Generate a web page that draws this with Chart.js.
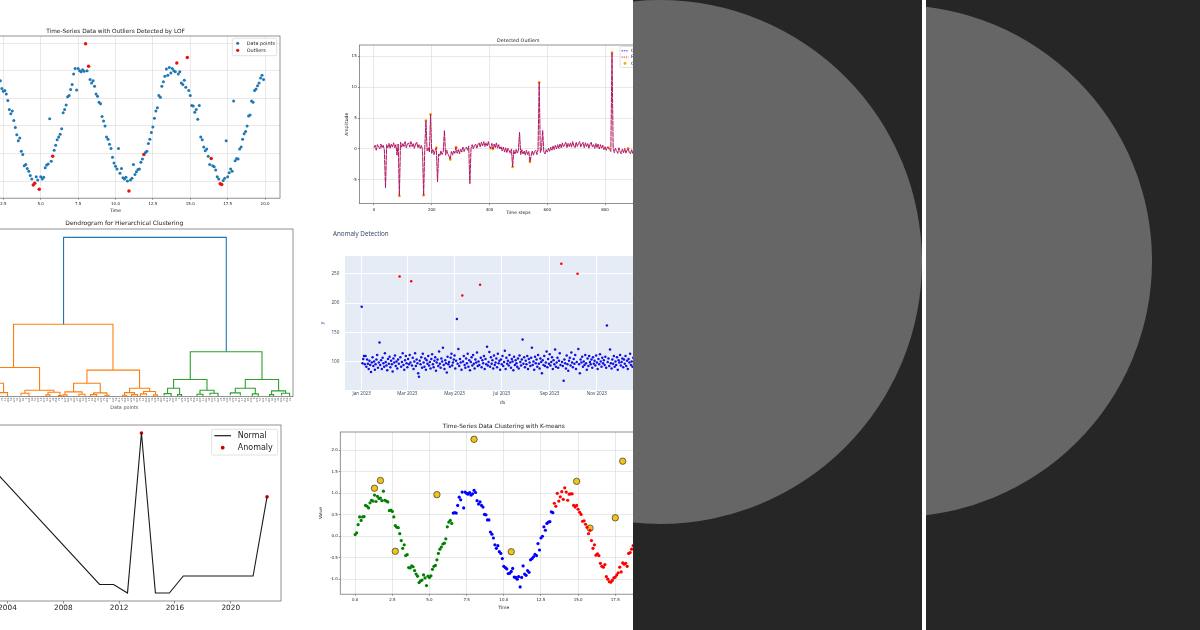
<!DOCTYPE html>
<html>
<head>
<meta charset="utf-8">
<script src="https://cdn.jsdelivr.net/npm/chart.js@4.4.1/dist/chart.umd.min.js"></script>
<style>
  html, body { margin: 0; padding: 0; background: #fff; }
  body { width: 1200px; height: 630px; position: relative; overflow: hidden; }
  canvas.panel { position: absolute; left: 0; top: 0; }
  .dark { position: absolute; top: 0; height: 630px; background: #262626; overflow: hidden; z-index: 5; }
  .disc { position: absolute; background: #666; border-radius: 50%; }
</style>
</head>
<body>
<canvas id="lof" class="panel" width="400" height="240"></canvas>
<canvas id="outl" class="panel" width="400" height="240"></canvas>
<canvas id="dendro" class="panel" width="400" height="240"></canvas>
<canvas id="anom" class="panel" width="400" height="240"></canvas>
<canvas id="norm" class="panel" width="400" height="240"></canvas>
<canvas id="kmeans" class="panel" width="400" height="240"></canvas>
<div class="dark" style="left:633px;width:289px"><div class="disc" style="left:-235px;top:0;width:524px;height:524px"></div></div>
<div class="dark" style="left:926px;width:274px"><div class="disc" style="left:-286px;top:5px;width:512px;height:512px"></div></div>
<script>
const FONT = "'DejaVu Sans', sans-serif";
const PLOTLY_FONT = "'Open Sans', sans-serif";
const INK = '#222';

// panel 1 - LOF scatter (samples every 0.1 from t = 2.0)
const lofStart = 2.0, lofStep = 0.1;
const lofValues = [
  0.92, 0.85, 0.80, 0.82, 0.68, 0.63, 0.64, 0.58, 0.46, 0.30,
  0.22, 0.27, 0.10, -0.03, -0.16, -0.27, -0.22, -0.46, -0.52, -0.72,
  -0.70, -0.77, -0.82, -0.90, -0.96, -1.07, -1.04, -0.92, -0.98, -1.15,
  -0.92, -0.96, -0.93, -0.76, -0.71, -0.69, 0.13, -0.64, -0.55, -0.44,
  -0.35, -0.25, -0.20, -0.15, -0.05, 0.24, 0.30, 0.38, 0.53, 0.55,
  0.66, 0.75, 0.94, 1.04, 0.65, 1.04, 1.00, 0.98, 1.02, 0.99,
  1.49, 1.00, 1.08, 0.84, 0.78, 0.82, 0.72, 0.58, 0.54, 0.43,
  0.40, 0.17, 0.09, 0.00, -0.20, -0.24, -0.33, -0.41, -0.57, -0.67,
  -0.73, -0.78, -0.41, -0.86, -0.77, -0.94, -0.96, -0.93, -1.00, -1.18,
  -0.98, -0.95, -0.70, -0.88, -0.83, -0.79, -0.78, -0.66, -0.60, -0.52,
  -0.48, -0.46, -0.32, -0.24, -0.12, -0.02, 0.14, 0.27, 0.33, 0.55,
  0.52, 0.72, 0.80, 0.90, 1.03, 0.92, 1.06, 0.96, 1.04, 1.00,
  0.98, 1.14, 0.94, 0.98, 0.78, 0.75, 0.83, 0.70, 1.24, 0.64,
  0.55, 0.37, 0.36, 0.25, 0.30, 0.12, 0.37, -0.20, -0.25, -0.38,
  -0.45, -0.42, -0.55, -0.70, -0.59, -0.72, -0.74, -0.80, -0.92, -0.96,
  -1.05, -1.06, -0.99, -0.95, -0.27, -0.92, -0.85, -0.78, -0.82, 0.45,
  -0.63, -0.59, -0.60, -0.42, -0.38, -0.24, -0.14, -0.10, 0.00, 0.18,
  0.20, 0.45, 0.43, 0.64, 0.67, 0.73, 0.78, 0.87, 0.92, 0.84
];
const lofOutlierTimes = [4.5, 4.6, 4.9, 5.8, 8.0, 8.2, 10.9, 11.9, 14.1, 14.8, 16.4, 17.0, 17.1];
const lofTicksX = [2.5, 5, 7.5, 10, 12.5, 15, 17.5, 20];
const lofTicksY = [-1, -0.5, 0, 0.5, 1, 1.5];

// panel 2 - detected outliers (one sample every 4 steps)
const p2Step = 4;
const p2Values = [
  0.2, 0.6, -0.2, 0.7, 0.3, 0.0, 0.8, 0.2, 0.6, -0.1,
  -6.3, 0.7, 0.2, 0.9, 0.1, 0.8, 0.3, 1.0, 0.2, 0.7,
  -1.0, 0.8, -7.6, 1.1, 0.3, 0.9, 0.4, 1.2, 0.2, 0.8,
  1.0, 0.3, 1.2, 0.4, 0.9, 0.1, 0.8, 1.1, 0.2, 0.7,
  0.1, 0.6, -0.1, -7.5, 0.2, 4.6, -0.3, 0.2, -0.5, 5.6,
  -0.7, -0.1, -0.9, -0.2, 0.2, -5.3, -0.8, -1.1, -0.3, -0.9,
  -0.4, 3.0, -1.0, -0.2, -0.8, -1.2, -1.7, -0.4, -1.0, -0.3,
  -0.7, 0.3, -0.7, -0.1, -0.8, 0.0, -0.5, 0.3, -0.4, 0.1,
  0.3, -0.2, 0.5, -5.6, 0.1, 0.7, 0.0, 0.6, 0.8, 0.1,
  0.7, 1.0, 0.3, 1.1, 0.5, 1.2, 0.4, 1.0, 0.5, 1.2,
  0.4, 0.1, 0.9, 0.0, 0.8, 0.2, 1.0, 0.1, 0.7, 0.0,
  0.4, -0.3, 0.3, -0.5, 0.2, -0.6, 0.1, -0.3, -0.7, 0.0,
  -2.9, -0.2, -0.8, -0.1, -0.7, -0.2, 2.7, -0.9, -0.1, -0.8,
  -0.3, -1.0, -0.2, -0.9, -0.4, -2.1, -1.1, -0.3, -1.0, -0.4,
  -0.2, -0.9, -0.1, 10.8, -0.6, 0.0, 3.0, -0.5, -0.8, -0.1,
  -0.5, 0.1, -0.4, 0.3, -0.2, 0.5, -0.1, 0.6, 0.0, 0.7,
  0.1, 0.8, 0.2, 1.0, 0.3, 0.7, 1.1, 0.2, 0.9, 0.4,
  1.0, 0.3, 1.2, 0.5, 0.2, 1.1, 0.4, 0.9, 1.2, 0.3,
  0.8, 1.1, 0.2, 1.0, 0.4, 0.9, 0.1, 0.8, 1.1, 0.3,
  0.7, 0.1, 0.9, 0.2, 0.8, 0.0, 0.7, 0.1, 0.6, -0.1,
  0.4, -0.2, 0.3, 0.2, -0.1, -0.4, 15.6, 0.2, -0.6, 0.1,
  -0.3, -0.7, 0.2, -0.4, -0.8, 0.0, -0.6, 0.1, -0.7, -0.2,
  0.1, -0.6, -0.8, -0.1, -0.7, -0.3
];
const p2OutlierSteps = [88, 172, 180, 196, 216, 264, 284, 404, 412, 480, 540, 572, 812, 824, 880];
const p2TicksX = [0, 200, 400, 600, 800];
const p2TicksY = [-5, 0, 5, 10, 15];

// panel 3 - dendrogram links: [left x, right x, left foot, height, right foot, colour]
const dendroLinks = [
  [108.0, 270.7, 21.6, 47.5, 13.4, 'b'],
  [58.0, 157.4, 8.7, 21.6, 7.9, 'o'],
  [32.0, 84.0, 4.0, 8.7, 1.9, 'o'],
  [16.4, 48.0, 1.5, 4.0, 1.2, 'o'],
  [69.4, 98.4, 1.0, 1.9, 1.3, 'o'],
  [131.4, 184.0, 4.0, 7.9, 2.5, 'o'],
  [118.0, 144.7, 1.4, 4.0, 1.1, 'o'],
  [109.4, 126.4, 0.5, 1.4, 0.7, 'o'],
  [138.0, 151.4, 0.6, 1.1, 0.4, 'o'],
  [174.0, 194.0, 1.2, 2.5, 1.5, 'o'],
  [169.0, 179.0, 0.4, 1.2, 0.6, 'o'],
  [188.0, 200.0, 0.8, 1.5, 0.5, 'o'],
  [44.0, 52.0, 0.4, 1.2, 0, 'o'],
  [10.4, 22.4, 0.6, 1.5, 0, 'o'],
  [65.4, 73.4, 0.3, 1.0, 0, 'o'],
  [92.4, 104.4, 0.5, 1.3, 0.3, 'o'],
  [90.4, 94.4, 0, 0.5, 0, 'o'],
  [102.9, 105.9, 0, 0.3, 0, 'o'],
  [107.4, 111.4, 0, 0.5, 0, 'o'],
  [123.4, 129.4, 0.2, 0.7, 0, 'o'],
  [135.0, 141.0, 0, 0.6, 0.2, 'o'],
  [149.4, 153.4, 0, 0.4, 0, 'o'],
  [167.0, 171.0, 0, 0.4, 0, 'o'],
  [176.0, 182.0, 0.2, 0.6, 0, 'o'],
  [185.0, 191.0, 0, 0.8, 0.3, 'o'],
  [198.0, 202.0, 0, 0.5, 0, 'o'],
  [234.7, 306.4, 5.1, 13.4, 5.1, 'g'],
  [218.0, 251.4, 2.5, 5.1, 1.9, 'g'],
  [212.0, 224.0, 0.9, 2.5, 0.6, 'g'],
  [244.4, 258.4, 0.7, 1.9, 1.0, 'g'],
  [289.7, 323.0, 2.5, 5.1, 1.7, 'g'],
  [279.7, 299.7, 1.1, 2.5, 0.8, 'g'],
  [316.0, 330.0, 0.6, 1.7, 1.0, 'g'],
  [208.5, 215.5, 0.3, 0.9, 0, 'g'],
  [222.0, 226.0, 0, 0.6, 0, 'g'],
  [241.4, 247.4, 0, 0.7, 0.2, 'g'],
  [254.4, 262.4, 0.4, 1.0, 0, 'g'],
  [274.7, 284.7, 0.4, 1.1, 0.3, 'g'],
  [296.7, 302.7, 0, 0.8, 0.2, 'g'],
  [314.0, 318.0, 0, 0.6, 0, 'g'],
  [326.0, 334.0, 0.3, 1.0, 0, 'g']
];
const dendroColors = { b: '#1f77b4', o: '#ff7f0e', g: '#2ca02c' };
const leafIds = [
  118, 45, 131, 7, 162, 88, 24, 150, 63, 109, 5, 177, 92, 38, 144, 70, 12, 189, 56, 123,
  31, 167, 84, 2, 146, 99, 51, 135, 18, 173, 66, 114, 40, 158, 79, 9, 127, 194, 47, 103,
  27, 181, 60, 138, 15, 96, 153, 34, 120, 72, 186, 1, 143, 58, 111, 22, 169, 87, 129, 43,
  197, 75, 14, 160, 101, 36, 149, 68, 183, 20, 116, 54, 137, 90, 4, 175, 62, 125, 29, 156,
  81, 107, 11, 191, 49, 133, 77, 164, 25, 98, 145, 39, 179, 65, 112, 17, 152, 85, 130, 8,
  170, 57, 122, 33, 187, 94, 141, 46, 106, 73, 159, 26
];

// panel 4 - daily values for 2023 (null where the day is an anomaly)
const adDaily = [
  194, 98, 105, 110, 96, 110, 92, 104, 97, 88, 102, 95, 83, 99, 108, 93, 101, 87, 96, 104,
  112, 90, 99, 133, 95, 103, 88, 107, 98, 92, 115, 100, 94, 86, 105, 97, 109, 91, 102, 96,
  84, 106, 99, 111, 93, 101, 89, 104, 97, null, 108, 92, 100, 115, 95, 87, 103, 110, 98, 91,
  105, 96, 112, 99, null, 94, 107, 88, 101, 115, 93, 104, 98, 81, 75, 102, 96, 108, 90, 114,
  99, 92, 106, 87, 103, 97, 110, 94, 100, 89, 105, 113, 96, 91, 102, 108, 85, 99, 104, 93,
  118, 97, 90, 106, 101, 124, 95, 88, 103, 98, 82, 109, 96, 100, 92, 107, 114, 94, 99, 104,
  111, 89, 102, 173, 97, 122, 93, 105, 99, 87, null, 101, 110, 95, 90, 106, 98, 114, 92, 103,
  86, 100, 108, 94, 112, 97, 89, 104, 99, 116, 93, 101, 95, null, 107, 91, 103, 98, 110, 88,
  105, 96, 126, 94, 100, 117, 92, 108, 97, 103, 89, 111, 95, 99, 106, 91, 114, 98, 102, 87,
  104, 96, 110, 93, 100, 119, 88, 107, 97, 102, 94, 112, 99, 90, 105, 101, 86, 109, 95, 103,
  98, 92, 106, 89, 111, 100, 94, 104, 138, 97, 108, 91, 102, 96, 110, 88, 105, 99, 93, 107,
  124, 95, 101, 87, 109, 98, 104, 92, 112, 97, 89, 106, 100, 81, 103, 95, 110, 93, 99, 118,
  91, 105, 97, 113, 94, 100, 108, 88, 103, 96, 121, 92, 99, 107, 90, 102, 115, 95, null, 100,
  93, 68, 104, 98, 89, 111, 96, 85, 102, 107, 94, 116, 99, 91, 105, 97, 112, 88, 100, null,
  122, 96, 81, 104, 99, 109, 92, 101, 95, 112, 98, 87, 106, 93, 110, 100, 96, 104, 90, 108,
  97, 102, 94, 111, 99, 88, 105, 96, 113, 101, 92, 107, 98, 103, 95, 109, 90, 162, 100, 106,
  93, 121, 98, 89, 104, 97, 110, 92, 101, 95, 108, 87, 103, 99, 112, 94, 100, 106, 91, 104,
  97, 110, 93, 102, 88, 105, 99, 114, 95, 101, 92, 107, 96, 103, 90, 109, 98, 94, 104, 100,
  86, 97, 105, 93, 101
];
const adAnomalyDays = [49, 64, 130, 153, 258, 279];
const adAnomalyValues = [245, 237, 213, 231, 267, 250];
const adMonthDays = [0, 59, 120, 181, 243, 304];
const adMonthLabels = ['Jan 2023', 'Mar 2023', 'May 2023', 'Jul 2023', 'Sep 2023', 'Nov 2023'];
const adTicksY = [100, 150, 200, 250];

// panel 5 - normal line with anomalies
const nYears = [2002.6, 2010.6, 2011.6, 2012.6, 2013.6, 2014.6, 2015.6, 2016.6, 2017.6, 2018.6, 2019.6, 2020.6, 2021.6, 2022.6];
const nValues = [78, 7, 7, 2, 96, 2, 2, 12, 12, 12, 12, 12, 12, 58.5];
const nAnomalyYears = [2013.6, 2022.6];
const nTicksX = [2004, 2008, 2012, 2016, 2020];

// panel 6 - k-means clusters (samples every 0.1 from t = 0)
const kmStep = 0.1;
const kmValues = [
  0.04, 0.08, 0.27, 0.45, 0.37, 0.45, 0.46, 0.72, 0.70, 0.66,
  0.78, 0.84, 0.82, 0.96, 0.81, 0.93, 0.88, 0.89, 0.83, 1.05,
  0.84, 0.82, 0.80, 0.60, 0.61, 0.58, 0.45, 0.25, 0.21, 0.20,
  0.06, -0.10, -0.28, -0.20, -0.45, -0.43, -0.73, -0.74, -0.69, -0.71,
  -0.80, -0.88, -0.93, -1.08, -1.04, -1.02, -0.90, -0.97, -1.15, -0.93,
  -0.96, -0.92, -0.77, -0.70, -0.68, -0.55, -0.40, -0.30, -0.25, -0.18,
  -0.16, -0.06, 0.22, 0.33, 0.37, 0.30, 0.54, 0.55, 0.54, 0.72,
  0.91, 0.85, 1.03, 0.66, 1.03, 1.00, 0.98, 1.02, 0.96, 0.99,
  1.07, 1.02, 0.83, 0.75, 0.80, 0.72, 0.68, 0.51, 0.50, 0.38,
  0.38, 0.10, 0.05, -0.04, -0.20, -0.28, -0.22, -0.36, -0.40, -0.52,
  -0.70, -0.73, -0.76, -0.87, -0.86, -0.82, -0.75, -0.95, -0.96, -1.00,
  -0.94, -1.18, -0.96, -0.69, -0.88, -0.91, -0.80, -0.84, -0.55, -0.52,
  -0.48, -0.42, -0.45, -0.17, -0.32, -0.04, 0.00, 0.22, 0.14, 0.30,
  0.33, 0.34, 0.57, 0.55, 0.77, 0.70, 1.00, 0.82, 0.92, 1.04,
  0.86, 1.13, 1.03, 0.84, 0.98, 0.99, 0.99, 0.72, 0.68, 0.72,
  0.63, 0.56, 0.51, 0.35, 0.36, 0.28, 0.21, 0.06, 0.14, -0.10,
  -0.28, -0.20, -0.44, -0.41, -0.45, -0.63, -0.70, -0.72, -0.66, -0.94,
  -1.00, -1.06, -1.07, -1.03, -0.97, -0.95, -0.90, -0.85, -0.72, -0.83,
  -0.62, -0.65, -0.63, -0.70, -0.40, -0.38, -0.30, -0.22, -0.10
];
const kmClusterEnds = [6.5, 13.3];
const kmOutT = [1.3, 1.7, 2.7, 5.5, 8.0, 10.5, 14.9, 15.8, 17.5, 18.0];
const kmOutV = [1.12, 1.30, -0.35, 0.97, 2.26, -0.36, 1.28, 0.19, 0.43, 1.75];
const kmTicksX = [0, 2.5, 5, 7.5, 10, 12.5, 15, 17.5, 20];
const kmTicksY = [-1, -0.5, 0, 0.5, 1, 1.5, 2];

// ---------- plugins ----------
const frame = {
  id: 'frame',
  afterDatasetsDraw(chart, args, o) {
    if (!o.color) return;
    const { ctx, chartArea: a } = chart;
    ctx.save();
    ctx.strokeStyle = o.color;
    ctx.lineWidth = o.width || 0.8;
    ctx.strokeRect(a.left, a.top, a.right - a.left, a.bottom - a.top);
    ctx.restore();
  }
};

const areaBg = {
  id: 'areaBg',
  beforeDraw(chart, args, o) {
    if (!o.color) return;
    const { ctx, chartArea: a } = chart;
    ctx.save();
    ctx.fillStyle = o.color;
    ctx.fillRect(a.left, a.top, a.right - a.left, a.bottom - a.top);
    ctx.restore();
  }
};

const areaTitle = {
  id: 'areaTitle',
  afterDraw(chart, args, o) {
    if (!o.text) return;
    const { ctx, chartArea: a } = chart;
    ctx.save();
    ctx.font = o.size + 'px ' + (o.family || FONT);
    ctx.fillStyle = o.color || INK;
    ctx.textBaseline = 'middle';
    ctx.textAlign = o.align === 'left' ? 'left' : 'center';
    const x = o.align === 'left' ? a.left + o.dx : (a.left + a.right) / 2;
    ctx.fillText(o.text, x, a.top - o.dy);
    ctx.restore();
  }
};

const boxLegend = {
  id: 'boxLegend',
  afterDraw(chart, args, o) {
    if (!o.items) return;
    const { ctx, chartArea: a } = chart;
    const x = a.right - o.right - o.w, y = a.top + o.top;
    ctx.save();
    ctx.fillStyle = 'rgba(255,255,255,0.85)';
    ctx.strokeStyle = '#d4d4d4';
    ctx.lineWidth = 0.7;
    ctx.beginPath();
    ctx.roundRect(x, y, o.w, o.h, 1.5);
    ctx.fill();
    ctx.stroke();
    ctx.font = o.size + 'px ' + FONT;
    ctx.textBaseline = 'middle';
    o.items.forEach((it, i) => {
      const cy = y + o.first + i * o.gap, mx = x + o.mx;
      ctx.fillStyle = it.color;
      ctx.strokeStyle = it.color;
      if (it.kind === 'dot') {
        ctx.beginPath();
        ctx.arc(mx, cy, it.r || 1.5, 0, Math.PI * 2);
        ctx.fill();
      } else {
        ctx.lineWidth = it.w || 1;
        ctx.setLineDash(it.dash || []);
        ctx.beginPath();
        ctx.moveTo(mx - o.len / 2, cy);
        ctx.lineTo(mx + o.len / 2, cy);
        ctx.stroke();
        ctx.setLineDash([]);
      }
      ctx.fillStyle = INK;
      ctx.fillText(it.text, x + o.tx, cy);
    });
    ctx.restore();
  }
};

Chart.register(frame, areaBg, areaTitle, boxLegend);

// ---------- helpers ----------
function axis(o) {
  return {
    type: 'linear',
    display: o.display !== false,
    min: o.min,
    max: o.max,
    afterBuildTicks: s => { s.ticks = o.ticks.map(v => ({ value: v })); },
    afterFit: s => { if (s.isHorizontal()) s.height = o.size; else s.width = o.size; },
    grid: {
      drawOnChartArea: !!o.grid,
      color: o.gridColor || '#dadada',
      lineWidth: o.gridWidth || 0.6,
      drawTicks: o.tick !== 0,
      tickLength: o.tick ?? 1.5,
      tickColor: '#444',
      tickWidth: 0.6
    },
    border: { display: false },
    ticks: {
      autoSkip: false,
      minRotation: o.rot || 0,
      maxRotation: o.rot || 0,
      padding: o.pad ?? 1.5,
      color: o.color || INK,
      font: { family: o.family || FONT, size: o.font || 4 },
      callback: o.fmt || (v => v)
    },
    title: {
      display: !!o.title,
      text: o.title || '',
      color: o.color || INK,
      font: { family: o.family || FONT, size: o.titleSize || 4.6 },
      padding: 0
    }
  };
}

function options(o) {
  return {
    responsive: false,
    maintainAspectRatio: false,
    animation: false,
    events: [],
    layout: { padding: { top: o.padTop || 10, right: 4, left: 0, bottom: 0 } },
    plugins: Object.assign({ legend: { display: false }, tooltip: { enabled: false } }, o.plugins),
    scales: { x: o.x, y: o.y }
  };
}

function place(chart, area) {
  for (let k = 0; k < 3; k++) {
    const ca = chart.chartArea;
    const w = Math.round(chart.width + (area.r - area.l) - (ca.right - ca.left));
    const h = Math.round(chart.height + (area.b - area.t) - (ca.bottom - ca.top));
    if (w !== chart.width || h !== chart.height) chart.resize(w, h);
  }
  const ca = chart.chartArea;
  chart.canvas.style.left = Math.round(area.l - ca.left) + 'px';
  chart.canvas.style.top = Math.round(area.t - ca.top) + 'px';
}

const fixed1 = v => v.toFixed(1);
const FRAME = { color: '#777', width: 0.8 };

// ---------- panel 1 ----------
const lofPoints = lofValues.map((v, i) => ({ x: +(lofStart + i * lofStep).toFixed(1), y: v }));
const lofOutPts = lofPoints.filter(p => lofOutlierTimes.includes(p.x));
const lofInPts = lofPoints.filter(p => !lofOutlierTimes.includes(p.x));

const lofChart = new Chart(document.getElementById('lof'), {
  type: 'scatter',
  data: {
    datasets: [
      { label: 'Data points', data: lofInPts, backgroundColor: '#1f77b4', borderWidth: 0, pointRadius: 1.5 },
      { label: 'Outliers', data: lofOutPts, backgroundColor: '#e8140c', borderWidth: 0, pointRadius: 1.75 }
    ]
  },
  options: options({
    padTop: 12,
    plugins: {
      frame: FRAME,
      areaTitle: { text: 'Time-Series Data with Outliers Detected by LOF', size: 5.8, dy: 5 },
      boxLegend: {
        w: 44.4, h: 17.4, right: 3.3, top: 2.3, first: 5, gap: 7, mx: 5.4, tx: 14.4, size: 4.9, len: 6,
        items: [
          { kind: 'dot', color: '#1f77b4', text: 'Data points', r: 1.5 },
          { kind: 'dot', color: '#e8140c', text: 'Outliers', r: 1.6 }
        ]
      }
    },
    x: axis({ min: -1, max: 21, ticks: lofTicksX, grid: true, size: 15.8, pad: 1.8, fmt: fixed1, title: 'Time' }),
    y: axis({ min: -1.31, max: 1.63, ticks: lofTicksY, grid: true, size: 20, fmt: fixed1 })
  })
});
place(lofChart, { l: -49.4, t: 36, r: 280, b: 198 });

// ---------- panel 2 ----------
const p2Points = p2Values.map((v, i) => ({ x: i * p2Step, y: v }));
const p2OutPts = p2Points.filter(p => p2OutlierSteps.includes(p.x));

const outChart = new Chart(document.getElementById('outl'), {
  type: 'scatter',
  data: {
    datasets: [
      { label: 'Original Data', data: p2Points, showLine: true, borderColor: 'rgba(60,60,255,0.3)', borderWidth: 0.5, pointRadius: 0 },
      { label: 'Reconstructed', data: p2Points, showLine: true, borderColor: '#cc1040', borderWidth: 1, borderDash: [5, 0.6], pointRadius: 0 },
      { label: 'Outliers', data: p2OutPts, backgroundColor: 'orange', borderWidth: 0, pointRadius: 1.4 }
    ]
  },
  options: options({
    padTop: 10,
    plugins: {
      frame: FRAME,
      areaTitle: { text: 'Detected Outliers', size: 4.8, dy: 4 },
      boxLegend: {
        w: 52, h: 21, right: 5, top: 1.5, first: 4.3, gap: 6.3, mx: 5, tx: 11, size: 4.5, len: 7,
        items: [
          { kind: 'line', color: 'blue', text: 'Original Data', w: 0.8, dash: [1.5, 0.8] },
          { kind: 'line', color: 'red', text: 'Reconstructed', w: 0.9, dash: [1.2, 1] },
          { kind: 'dot', color: 'orange', text: 'Outliers', r: 1.4 }
        ]
      }
    },
    x: axis({ min: -50, max: 1049, ticks: p2TicksX, grid: true, size: 12.4, pad: 2.2, title: 'Time steps', titleSize: 4.5 }),
    y: axis({ min: -8.85, max: 16.85, ticks: p2TicksY, grid: true, size: 15.5, pad: 1.3, title: 'Amplitude', titleSize: 4.5 })
  })
});
place(outChart, { l: 359.5, t: 45, r: 677, b: 203.3 });

// ---------- panel 3 ----------
const dendroSets = dendroLinks.map(([xa, xb, ya, top, yb, c]) => ({
  data: [{ x: xa, y: ya }, { x: xa, y: top }, { x: xb, y: top }, { x: xb, y: yb }],
  showLine: true, borderColor: dendroColors[c], borderWidth: 1.1, pointRadius: 0
}));
const leafPos = leafIds.map((id, i) => 1.5 + i * 3);

const dendroChart = new Chart(document.getElementById('dendro'), {
  type: 'scatter',
  data: { datasets: dendroSets },
  options: options({
    padTop: 12,
    plugins: {
      frame: FRAME,
      areaTitle: { text: 'Dendrogram for Hierarchical Clustering', size: 6, dy: 5.3 }
    },
    x: axis({ min: 0, max: 337.4, ticks: leafPos, tick: 0, size: 14.4, pad: 1, rot: 90, font: 2.6, color: '#555',
      fmt: (v, i) => leafIds[i], title: 'Data points', titleSize: 4.9 }),
    y: axis({ min: 0, max: 50, ticks: [], display: false, size: 0 })
  })
});
place(dendroChart, { l: -44.7, t: 229.3, r: 292.7, b: 396.5 });

// ---------- panel 4 ----------
const adPoints = adDaily.map((v, i) => (v === null ? null : { x: i, y: v })).filter(Boolean);
const adAnomPts = adAnomalyDays.map((d, i) => ({ x: d, y: adAnomalyValues[i] }));
const PLOTLY_INK = '#2a3f5f';

const anomChart = new Chart(document.getElementById('anom'), {
  type: 'scatter',
  data: {
    datasets: [
      { label: 'Normal', data: adPoints, backgroundColor: '#1010e0', borderWidth: 0, pointRadius: 1.25 },
      { label: 'Anomaly', data: adAnomPts, backgroundColor: 'red', borderWidth: 0, pointRadius: 1.25 }
    ]
  },
  options: options({
    padTop: 30,
    plugins: {
      areaBg: { color: '#e5ecf6' },
      areaTitle: { text: 'Anomaly Detection', size: 6.3, dy: 22, align: 'left', dx: -12, family: PLOTLY_FONT, color: PLOTLY_INK }
    },
    x: axis({ min: -21.6, max: 385.6, ticks: adMonthDays, grid: true, gridColor: '#fff', gridWidth: 0.9, tick: 0, size: 16, pad: 1.3,
      font: 4.6, family: PLOTLY_FONT, color: PLOTLY_INK, fmt: (v, i) => adMonthLabels[i], title: 'ds', titleSize: 5 }),
    y: axis({ min: 52.4, max: 280, ticks: adTicksY, grid: true, gridColor: '#fff', gridWidth: 0.9, tick: 0, size: 25, pad: 5.7,
      font: 4.6, family: PLOTLY_FONT, color: PLOTLY_INK, title: 'y', titleSize: 5 })
  })
});
place(anomChart, { l: 345, t: 256, r: 659.7, b: 390 });

// ---------- panel 5 ----------
const nPoints = nYears.map((yr, i) => ({ x: yr, y: nValues[i] }));
const nAnomPts = nPoints.filter(p => nAnomalyYears.includes(p.x));

const normChart = new Chart(document.getElementById('norm'), {
  type: 'scatter',
  data: {
    datasets: [
      { label: 'Normal', data: nPoints, showLine: true, borderColor: '#1a1a1a', borderWidth: 1.1, pointRadius: 0 },
      { label: 'Anomaly', data: nAnomPts, backgroundColor: '#d00000', borderWidth: 0, pointRadius: 1.8 }
    ]
  },
  options: options({
    padTop: 6,
    plugins: {
      frame: FRAME,
      boxLegend: {
        w: 66, h: 25.7, right: 3.3, top: 4.3, first: 6.4, gap: 12, mx: 11, tx: 26, size: 8, len: 16.7,
        items: [
          { kind: 'line', color: '#1a1a1a', text: 'Normal', w: 1.2 },
          { kind: 'dot', color: '#d00000', text: 'Anomaly', r: 1.9 }
        ]
      }
    },
    x: axis({ min: 2001.6, max: 2023.6, ticks: nTicksX, tick: 2.5, size: 16, pad: 0.6, font: 7.3, fmt: v => String(v) }),
    y: axis({ min: -2.7, max: 100.7, ticks: [0, 20, 40, 60, 80, 100], tick: 2.5, size: 20 })
  })
});
place(normChart, { l: -25.9, t: 425, r: 281, b: 600.7 });

// ---------- panel 6 ----------
const kmPoints = kmValues.map((v, i) => ({ x: +(i * kmStep).toFixed(1), y: v }));
const kmGreen = kmPoints.filter(p => p.x <= kmClusterEnds[0]);
const kmBlue = kmPoints.filter(p => p.x > kmClusterEnds[0] && p.x <= kmClusterEnds[1]);
const kmRed = kmPoints.filter(p => p.x > kmClusterEnds[1]);
const kmOutPts = kmOutT.map((t, i) => ({ x: t, y: kmOutV[i] }));

const kmChart = new Chart(document.getElementById('kmeans'), {
  type: 'scatter',
  data: {
    datasets: [
      { label: 'Cluster 0', data: kmGreen, backgroundColor: 'green', borderWidth: 0, pointRadius: 1.6 },
      { label: 'Cluster 1', data: kmBlue, backgroundColor: 'blue', borderWidth: 0, pointRadius: 1.6 },
      { label: 'Cluster 2', data: kmRed, backgroundColor: 'red', borderWidth: 0, pointRadius: 1.6 },
      { label: 'Outliers', data: kmOutPts, backgroundColor: '#f0c419', borderColor: '#333', borderWidth: 0.7, pointRadius: 3.2 }
    ]
  },
  options: options({
    padTop: 12,
    plugins: {
      frame: FRAME,
      areaTitle: { text: 'Time-Series Data Clustering with K-means', size: 5.8, dy: 5.7 }
    },
    x: axis({ min: -1, max: 21, ticks: kmTicksX, grid: true, size: 15.8, pad: 2.2, fmt: fixed1, title: 'Time', titleSize: 4.4 }),
    y: axis({ min: -1.35, max: 2.43, ticks: kmTicksY, grid: true, size: 22.3, pad: 1, fmt: fixed1, title: 'Value', titleSize: 4.3 })
  })
});
place(kmChart, { l: 340.4, t: 431.7, r: 667.4, b: 594.3 });
</script>
</body>
</html>
